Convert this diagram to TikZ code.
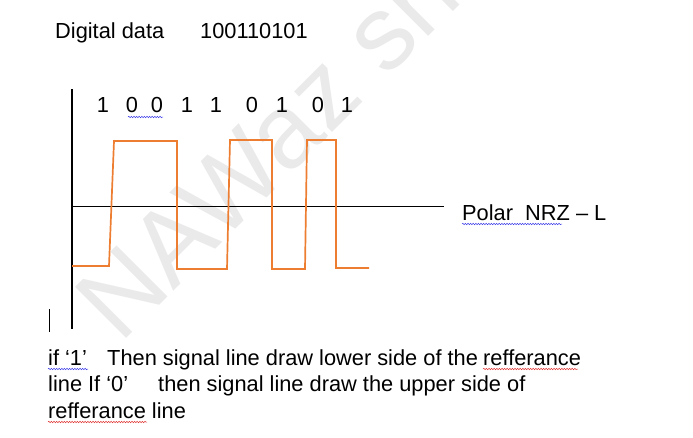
\documentclass[tikz,border=0pt]{standalone}
\usepackage{fontspec}
\setmainfont{Liberation Sans}
\usepackage{tikz}
\usetikzlibrary{decorations.pathmorphing}
\definecolor{sigorange}{HTML}{ED7D31}
\definecolor{wmgray}{HTML}{EAEAEA}
\definecolor{spellblue}{HTML}{3B3BE8}
\definecolor{spellred}{HTML}{E03030}
\tikzset{
  txt/.style={inner sep=0pt, anchor=base west},
  bitlbl/.style={inner sep=0pt, anchor=base},
  axisline/.style={black, line width=1.8pt},
  sigline/.style={sigorange, line width=1.7pt, line join=miter},
  squiggle/.style={decorate, decoration={snake, amplitude=0.7pt, segment length=2.6pt}, line width=0.5pt}
}
\begin{document}
\begin{tikzpicture}[x=1pt, y=-1pt, font=\fontsize{21.8}{26}\selectfont]
  \useasboundingbox (0,0) rectangle (693,437);
  \clip (0,0) rectangle (693,437);
  % watermark
  \node[txt, rotate=45, text=wmgray, font=\fontsize{105}{105}\selectfont] (wmark) at (120,345) {NAWaz sha};
  % heading
  \node[txt] (title) at (55,38) {Digital data};
  \node[txt] (datastr) at (200,38) {100110101};
  % bits above the signal
  \foreach \x/\b [count=\i] in {103/1, 132/0, 157/0, 187/1, 216/1, 252/0, 282/1, 318/0, 347/1}
    \node[bitlbl] (bit\i) at (\x,112) {\b};
  % axes
  \coordinate (vtop) at (72,89);
  \coordinate (vbot) at (72,329);
  \coordinate (hleft) at (72,206.5);
  \coordinate (hright) at (444,206.5);
  \draw[axisline] (vtop) -- (vbot);
  \draw[axisline] (hleft) -- (hright);
  \draw[black, line width=1pt] (49,309) -- (49,332);
  % signal
  \draw[sigline] (72,266) -- (109,266) -- (114,141) -- (177,141) -- (177,269) -- (227,269)
    -- (230,140) -- (272,140) -- (272,269) -- (305,269) -- (307,140) -- (336,140)
    -- (336,268) -- (369,268);
  \node[txt] (polar) at (462,220) {Polar\ \ NRZ -- L};
  % note
  \node[txt] (ifone) at (48,365) {if ‘1’};
  \node[txt] (thenone) at (107,365) {Then signal line draw lower side of the};
  \node[txt] (refone) at (483,365) {refferance};
  \node[txt] (ifzero) at (48,391.5) {line If ‘0’};
  \node[txt] (thenzero) at (158,391.5) {then signal line draw the upper side of};
  \node[txt] (refzero) at (48,418) {refferance line};
  % spell check marks
  \draw[squiggle, spellblue] (128,117) -- (163,117);
  \draw[squiggle, spellblue] (462,224) -- (562,224);
  \draw[squiggle, spellblue] (48,369) -- (88,369);
  \draw[squiggle, spellred] (483,369) -- (578,369);
  \draw[squiggle, spellred] (48,422) -- (147,422);
\end{tikzpicture}
\end{document}
